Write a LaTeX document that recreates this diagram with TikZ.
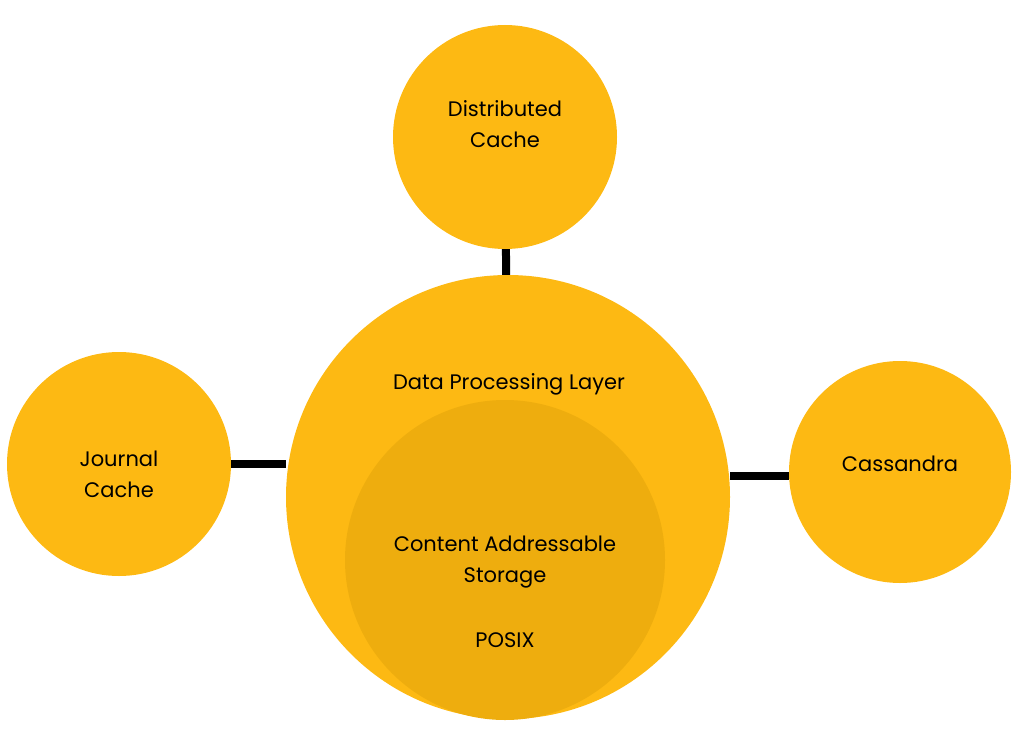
\documentclass[tikz,border=0pt]{standalone}
\usepackage{fontspec}
\setmainfont{Poppins}
\usetikzlibrary{positioning}
\definecolor{cacheyellow}{HTML}{FDB913}
\definecolor{storeyellow}{HTML}{EEAD0E}
\tikzset{
  blob/.style = {circle, fill=cacheyellow, inner sep=0pt},
  label/.style = {align=center, font=\fontsize{21}{31}\selectfont},
  link/.style = {line width=8pt, black}
}
\begin{document}
\begin{tikzpicture}[x=1pt,y=-1pt]
          \useasboundingbox (0,0) rectangle (1024,741);
          \node [blob, minimum size=224pt] (dist) at (505,137) {};
          \node [blob, minimum size=444pt] (proc) at (508,497) {};
          \node [blob, minimum size=224pt] (journal) at (119,464) {};
          \node [blob, minimum size=222pt] (cass) at (900,472) {};
          \node [circle, fill=storeyellow, minimum size=320pt] (cas) at (505,560) {};
          \node [label] (distT) at (505,124) {Distributed\\Cache};
          \node [label] (journalT) at (119,474) {Journal\\Cache};
          \node [label] (cassT) at (900,464) {Cassandra};
          \node [label] (procT) at (509,384) {Data Processing Layer};
          \node [label] (casT) at (505,562) {Content Addressable\\Storage};
          \node [label] (posix) at (505,640) {POSIX};
          \draw [link] (dist) -- (proc);
          \draw [link] (journal.east) -- (proc.west |- journal.east);
          \coordinate (pr) at (730,476);
          \draw [link] (pr) -- (cass.west |- pr);
  \end{tikzpicture}
\end{document}
